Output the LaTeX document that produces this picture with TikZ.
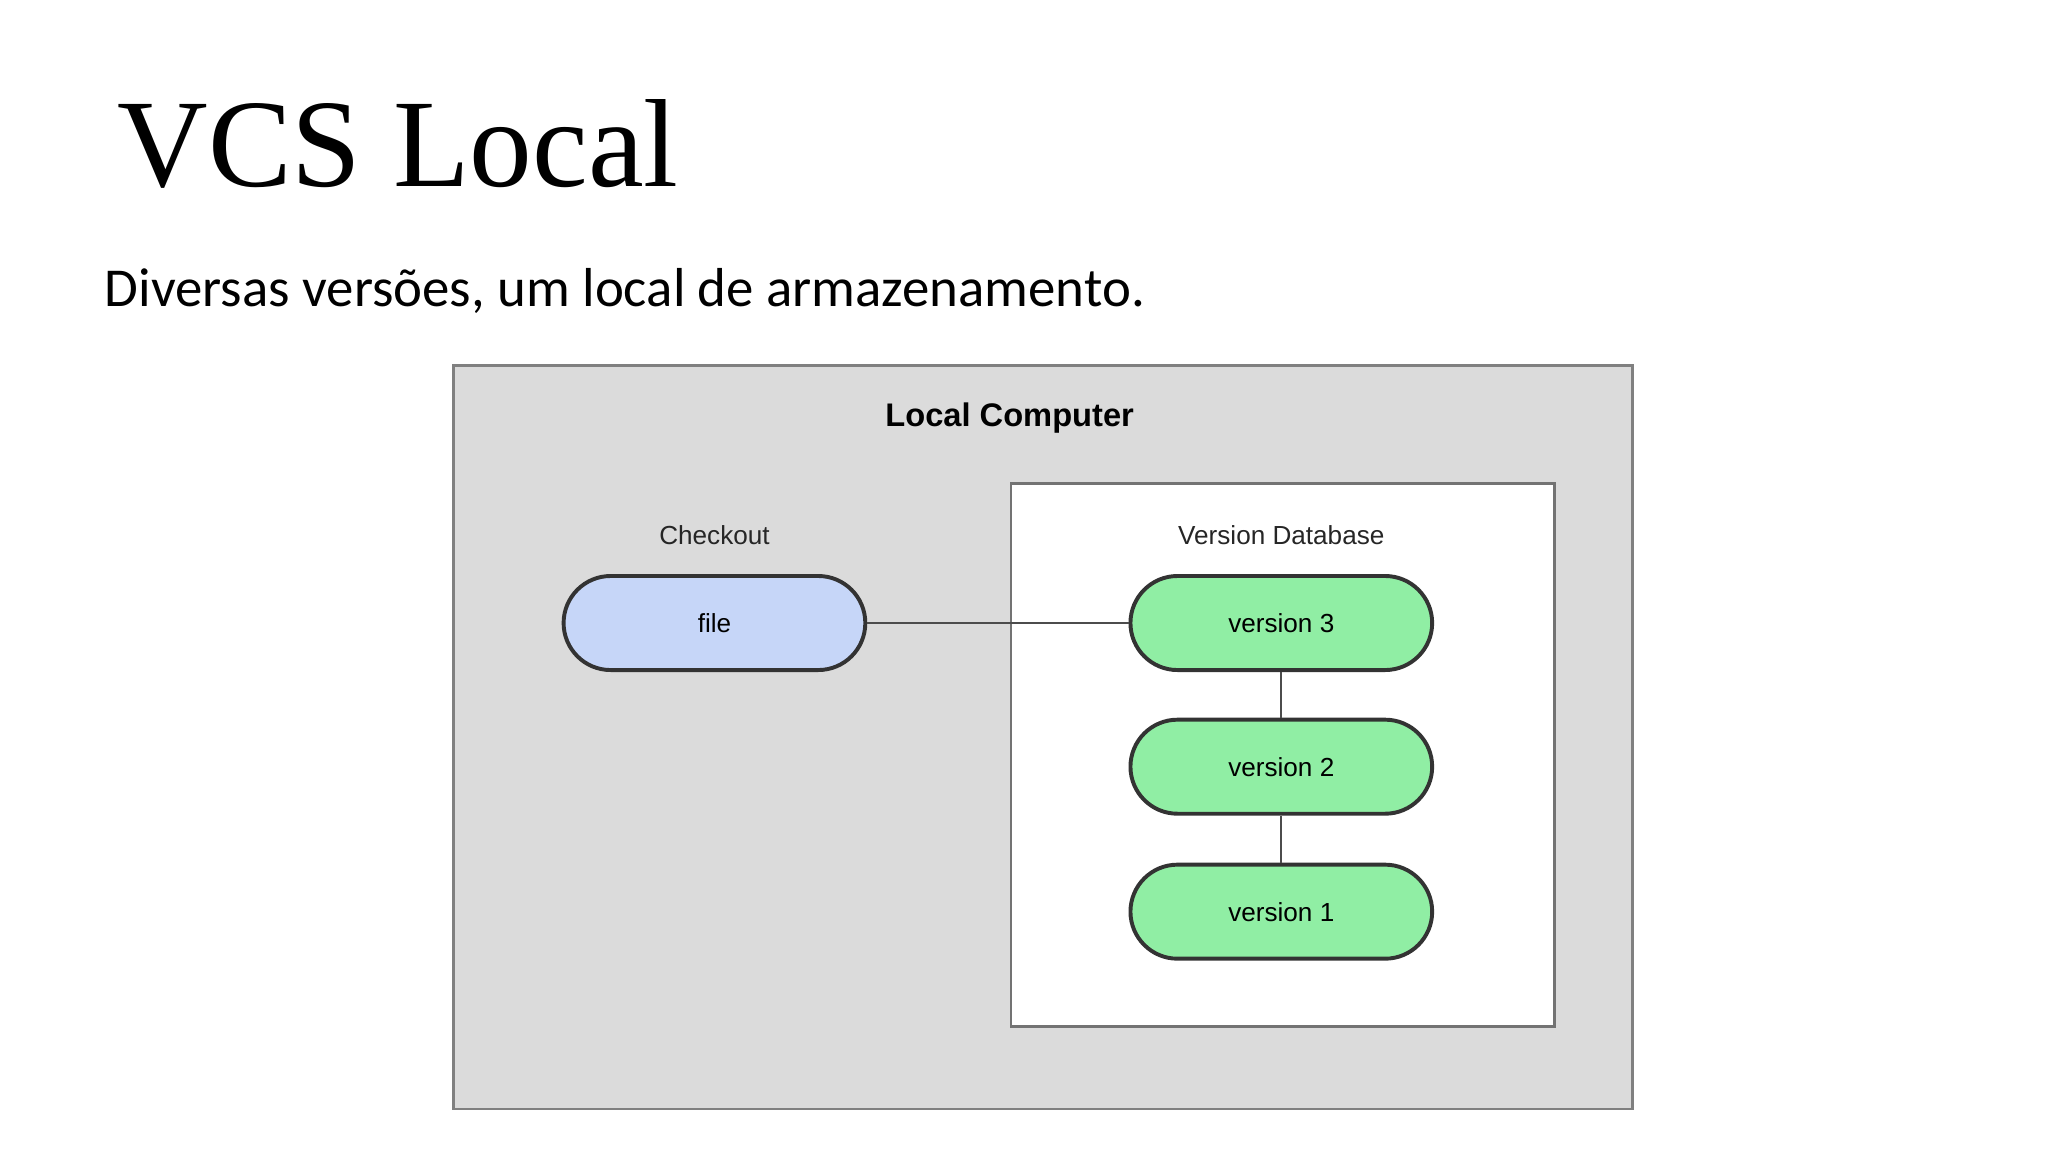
\documentclass[tikz,border=0pt]{standalone}
\usepackage{fontspec}
\setmainfont{Liberation Serif}
\newfontfamily\calfnt{Carlito}
\newfontfamily\helfnt{Liberation Sans}
\begin{document}
\begin{tikzpicture}[x=1pt,y=-1pt,
  pill/.style={draw=black!80,line width=3pt,rounded corners=36pt,minimum width=231pt,minimum height=72pt,font=\helfnt\fontsize{20}{24}\selectfont},
  lbl/.style={font=\helfnt\fontsize{20}{24}\selectfont,text=black!85}]
\useasboundingbox (0,0) rectangle (1568,882);
\fill[white] (0,0) rectangle (1568,882);
\node[anchor=base west,inner sep=0,font=\fontsize{96}{110}\selectfont] (title) at (90,143) {VCS Local};
\node[anchor=base west,inner sep=0,font=\calfnt\fontsize{42}{50}\selectfont] (sub) at (80,235) {Diversas versões, um local de armazenamento.};
\draw[draw=black!50,fill=black!14,line width=2pt] (347,280) rectangle (1250,849);
\node[font=\helfnt\bfseries\fontsize{25}{30}\selectfont] (lc) at (773,320) {Local Computer};
\draw[draw=black!55,fill=white,line width=2pt] (774,370) rectangle (1190,786);
\node[lbl] (co) at (547,410) {Checkout};
\node[lbl] (vd) at (981,410) {Version Database};
\node[pill,fill={rgb,255:red,198;green,214;blue,248}] (file) at (547,477) {file};
\node[pill,fill={rgb,255:red,144;green,238;blue,164}] (v3) at (981,477) {version 3};
\node[pill,fill={rgb,255:red,144;green,238;blue,164}] (v2) at (981,587) {version 2};
\node[pill,fill={rgb,255:red,144;green,238;blue,164}] (v1) at (981,698) {version 1};
\draw[black!70,line width=1.5pt] (file) -- (v3);
\draw[black!70,line width=1.5pt] (v3) -- (v2);
\draw[black!70,line width=1.5pt] (v2) -- (v1);
\end{tikzpicture}
\end{document}
